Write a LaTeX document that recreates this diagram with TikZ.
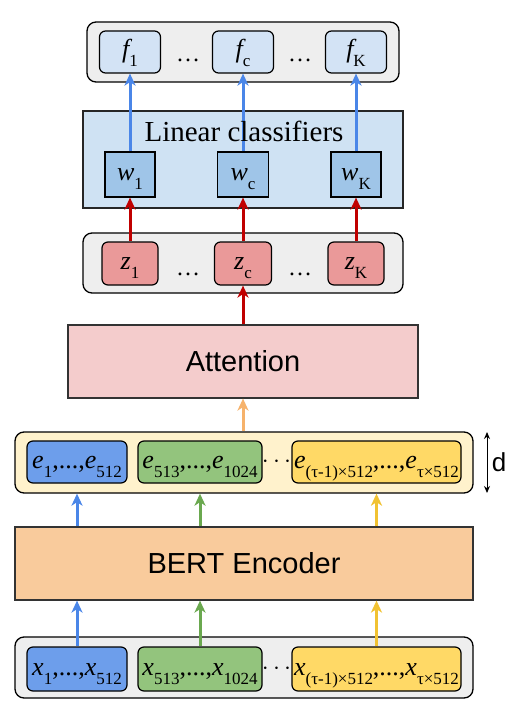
\documentclass[tikz,border=0pt]{standalone}
\usepackage{fontspec}
\setmainfont{Liberation Serif}
\newfontfamily\sansf{Liberation Sans}
\usetikzlibrary{arrows.meta}
\definecolor{grayfill}{HTML}{EEEEEE}
\definecolor{ffill}{HTML}{D3E3F5}
\definecolor{lcfill}{HTML}{CFE2F3}
\definecolor{wfill}{HTML}{9FC5E8}
\definecolor{zfill}{HTML}{EA9999}
\definecolor{attfill}{HTML}{F4CCCC}
\definecolor{efill}{HTML}{FFF2CC}
\definecolor{bertfill}{HTML}{F9CB9C}
\definecolor{bluebox}{HTML}{6D9EEB}
\definecolor{greenbox}{HTML}{93C47D}
\definecolor{yellowbox}{HTML}{FFD966}
\definecolor{bluearr}{HTML}{4A86E8}
\definecolor{redarr}{HTML}{C00000}
\definecolor{orangearr}{HTML}{F6B26B}
\definecolor{greenarr}{HTML}{6AA84F}
\definecolor{yellowarr}{HTML}{F1C232}
\newcommand\sbl[2]{{\fontsize{26}{26}\selectfont\itshape #1}\raisebox{-9pt}{\fontsize{17}{17}\selectfont #2}}
\newcommand\cm{{\fontsize{26}{26}\selectfont ,...,}}
\begin{document}
\begin{tikzpicture}[x=1pt,y=-1pt,
  group/.style={draw=black,line width=1.3pt,rounded corners=9pt,fill=grayfill,inner sep=0pt},
  rbox/.style={draw=black,line width=1.2pt,rounded corners=6pt,inner sep=0pt,text height=22pt,text depth=10pt},
  sbox/.style={draw=black,line width=1.2pt,inner sep=0pt,text height=22pt,text depth=10pt},
  bigbox/.style={draw=black!80,line width=1.2pt,inner sep=0pt,font=\sansf\fontsize{29}{29}\selectfont},
  arr/.style={line width=3pt,-{Stealth[length=12pt,width=11pt,inset=3.5pt]}},
  dots/.style={inner sep=0pt,font=\fontsize{24}{24}\selectfont}
]
\fill[white] (0,0) rectangle (519,711);
\useasboundingbox (0,0) rectangle (519,711);

% top output group
\node[group,minimum width=312pt,minimum height=60pt] (topgrp) at (243,52) {};
\node[rbox,fill=ffill,minimum width=61pt,minimum height=42pt] (f1) at (130,52) {\sbl{f}{1}};
\node[rbox,fill=ffill,minimum width=61pt,minimum height=42pt] (fc) at (243,52) {\sbl{f}{c}};
\node[rbox,fill=ffill,minimum width=61pt,minimum height=42pt] (fK) at (356,52) {\sbl{f}{K}};
\node[dots,anchor=base] (fd1) at (188,62) {\ldots};
\node[dots,anchor=base] (fd2) at (300,62) {\ldots};

% linear classifiers
\node[draw=black!85,line width=1.2pt,fill=lcfill,minimum width=320pt,minimum height=97pt,inner sep=0pt] (lc) at (243,159.5) {};
\node[sbox,fill=wfill,minimum width=50pt,minimum height=45pt] (w1) at (130,174.5) {\sbl{w}{1}};
\node[sbox,fill=wfill,minimum width=51pt,minimum height=45pt] (wc) at (243,174.5) {\sbl{w}{c}};
\node[sbox,fill=wfill,minimum width=50pt,minimum height=45pt] (wK) at (356,174.5) {\sbl{w}{K}};

% z group
\node[group,minimum width=320pt,minimum height=60pt] (zgrp) at (243,263) {};
\node[rbox,fill=zfill,minimum width=56pt,minimum height=43pt] (z1) at (130,263.5) {\sbl{z}{1}};
\node[rbox,fill=zfill,minimum width=57pt,minimum height=43pt] (zc) at (243,263.5) {\sbl{z}{c}};
\node[rbox,fill=zfill,minimum width=56pt,minimum height=43pt] (zK) at (356,263.5) {\sbl{z}{K}};
\node[dots,anchor=base] (zd1) at (188,275) {\ldots};
\node[dots,anchor=base] (zd2) at (300,275) {\ldots};

% attention
\node[bigbox,fill=attfill,minimum width=350pt,minimum height=73pt] (att) at (243,361.5) {Attention};

% e group
\node[group,fill=efill,minimum width=458pt,minimum height=61pt] (egrp) at (244,462.5) {};
\node[rbox,fill=bluebox,minimum width=100pt,minimum height=42pt] (e1) at (77,462) {\sbl{e}{1}\cm\sbl{e}{512}};
\node[rbox,fill=greenbox,minimum width=124pt,minimum height=42pt] (e2) at (200,462) {\sbl{e}{513}\cm\sbl{e}{1024}};
\node[rbox,fill=yellowbox,minimum width=169pt,minimum height=42pt] (e3) at (376.5,462) {\sbl{e}{(τ-1)×512}\cm\sbl{e}{τ×512}};
\node[inner sep=0pt] (ed) at (276.5,462) {\fontsize{24}{24}\selectfont$\cdots$};

% d marker
\coordinate (dtop) at (487,432);
\coordinate (dbot) at (487,493);
\draw[line width=1pt,{Stealth[length=7pt,width=6pt]}-{Stealth[length=7pt,width=6pt]}] (dtop) -- (dbot);
\node[inner sep=0pt,font=\sansf\fontsize{26}{26}\selectfont] (dl) at (499,462) {d};

% BERT
\node[bigbox,fill=bertfill,minimum width=458pt,minimum height=73pt] (bert) at (244,563.5) {BERT Encoder};

% x group
\node[group,minimum width=458pt,minimum height=61pt] (xgrp) at (244,667.5) {};
\node[rbox,fill=bluebox,minimum width=100pt,minimum height=44pt] (x1) at (77,669) {\sbl{x}{1}\cm\sbl{x}{512}};
\node[rbox,fill=greenbox,minimum width=124pt,minimum height=44pt] (x2) at (200,669) {\sbl{x}{513}\cm\sbl{x}{1024}};
\node[rbox,fill=yellowbox,minimum width=169pt,minimum height=44pt] (x3) at (376.5,669) {\sbl{x}{(τ-1)×512}\cm\sbl{x}{τ×512}};
\node[inner sep=0pt] (xd) at (276.5,669) {\fontsize{24}{24}\selectfont$\cdots$};

% arrows
\draw[arr,bluearr] (w1.north) -- (w1.north |- f1.south);
\draw[arr,bluearr] (wc.north) -- (wc.north |- fc.south);
\draw[arr,bluearr] (wK.north) -- (wK.north |- fK.south);
\draw[arr,redarr] (z1.north) -- (z1.north |- w1.south);
\draw[arr,redarr] (zc.north) -- (zc.north |- wc.south);
\draw[arr,redarr] (zK.north) -- (zK.north |- wK.south);
\draw[arr,redarr] (att.north) -- (att.north |- zc.south);
\draw[arr,orangearr] (att.south |- egrp.north) -- (att.south);
\draw[arr,bluearr] (e1.south |- bert.north) -- (e1.south |- egrp.south);
\draw[arr,greenarr] (e2.south |- bert.north) -- (e2.south |- egrp.south);
\draw[arr,yellowarr] (e3.south |- bert.north) -- (e3.south |- egrp.south);
\draw[arr,bluearr] (x1.north) -- (x1.north |- bert.south);
\draw[arr,greenarr] (x2.north) -- (x2.north |- bert.south);
\draw[arr,yellowarr] (x3.north) -- (x3.north |- bert.south);

% classifier title on top of the lines
\node[anchor=base,inner sep=0pt,font=\fontsize{29}{29}\selectfont] (lct) at (244,142) {Linear classifiers};
\end{tikzpicture}
\end{document}
